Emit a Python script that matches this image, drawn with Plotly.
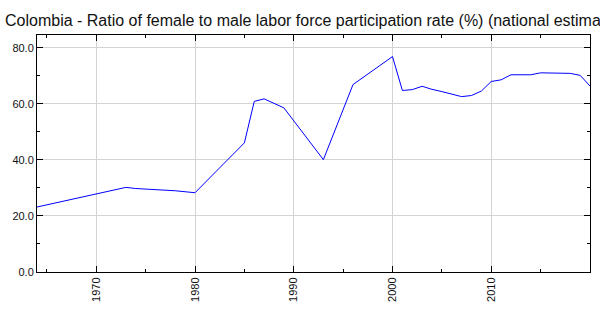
import plotly.graph_objects as go

years = [1964, 1973, 1974, 1978, 1980, 1985, 1986, 1987, 1989, 1993, 1996, 2000,
         2001, 2002, 2003, 2004, 2005, 2007, 2008, 2009, 2010, 2011, 2012, 2014,
         2015, 2017, 2018, 2019, 2020]
values = [23.2, 30.2, 29.8, 29.0, 28.3, 46.1, 60.9, 61.8, 58.6, 40.1, 66.9, 76.9,
          64.8, 65.1, 66.3, 65.2, 64.4, 62.6, 63.0, 64.6, 68.0, 68.6, 70.4, 70.4,
          71.1, 71.1, 70.9, 70.2, 66.4]

x_ticks = [1970, 1980, 1990, 2000, 2010]
y_ticks = [0, 20, 40, 60, 80]
title = "Colombia - Ratio of female to male labor force participation rate (%) (national estimates)"

fig = go.Figure()
fig.add_trace(go.Scatter(x=years, y=values, mode="lines",
                         line=dict(color="#0000ff", width=1), hoverinfo="skip"))

axis_common = dict(showline=True, linecolor="black", linewidth=1, mirror="ticks",
                   ticks="inside", tickcolor="black", ticklen=6,
                   showgrid=True, gridcolor="#d3d3d3", gridwidth=1, zeroline=False,
                   tickfont=dict(family="Liberation Sans, Arial, sans-serif", size=11, color="#111"))

fig.update_xaxes(range=[1964, 2020], tickvals=x_ticks, ticktext=[str(v) for v in x_ticks],
                 tickangle=-90,
                 minor=dict(tickvals=[1965, 1975, 1985, 1995, 2005, 2015], ticks="inside",
                            ticklen=3, tickcolor="black", showgrid=False),
                 **axis_common)
fig.update_yaxes(range=[0, 84.6], tickvals=y_ticks, ticktext=[f"{v:.1f}" for v in y_ticks],
                 minor=dict(tickvals=[10, 30, 50, 70], ticks="inside", ticklen=3,
                            tickcolor="black", showgrid=False),
                 **axis_common)

fig.update_layout(
    width=600, height=315,
    margin=dict(l=37, r=10, t=35, b=43),
    paper_bgcolor="white", plot_bgcolor="white",
    showlegend=False,
    title=dict(text=title, x=5 / 600, xref="container", xanchor="left",
               y=1 - 20 / 315, yref="container", yanchor="middle",
               font=dict(family="Liberation Sans, Arial, sans-serif", size=16, color="#111")),
)

fig.write_html("out.html")
